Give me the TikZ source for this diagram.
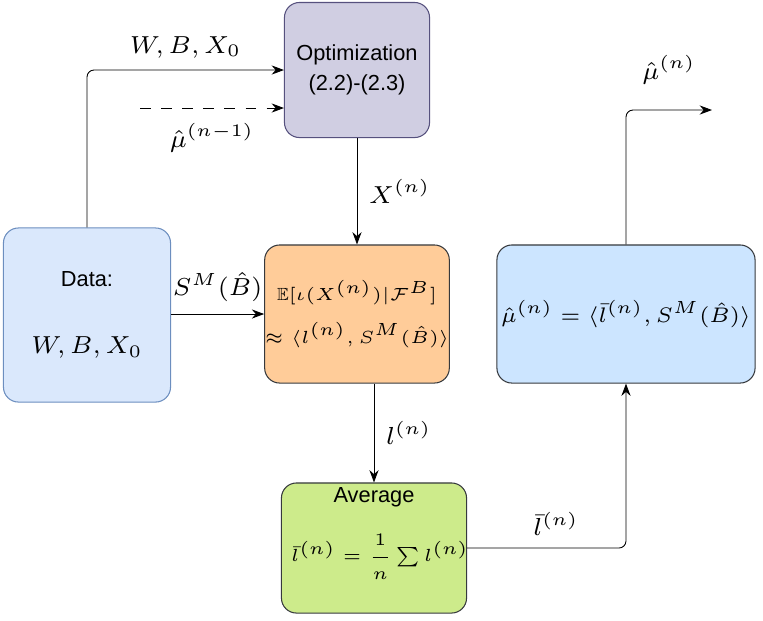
\documentclass[tikz,border=0pt]{standalone}
\usepackage{amsmath,amssymb}
\usepackage{fontspec}
\newfontfamily\sansf{Liberation Sans}
\usetikzlibrary{arrows.meta}
\begin{document}
\begin{tikzpicture}[x=0.01cm,y=-0.01cm,
  box/.style={draw, rounded corners=0.15cm, line width=0.3pt, inner sep=0pt},
  arr/.style={-{Stealth[length=3.5pt,width=2.6pt]}, line width=0.25pt},
  lbl/.style={font=\fontsize{6.6}{8}\selectfont},
  st/.style={font=\sansf\fontsize{6.2}{7.5}\selectfont}]
\useasboundingbox (0,0) rectangle (763,620);
\definecolor{lav}{HTML}{D0CEE2}\definecolor{lavd}{HTML}{56517E}
\definecolor{lb}{HTML}{DAE8FC}\definecolor{lbd}{HTML}{6C8EBF}
\definecolor{orf}{HTML}{FFCC99}\definecolor{gr}{HTML}{CDEB8B}
\definecolor{rb}{HTML}{CCE5FF}\definecolor{dk}{HTML}{36393D}
\node[box, fill=lav, draw=lavd, minimum width=1.45cm, minimum height=1.35cm, align=center, st] (opt) at (357,70) {Optimization\\[1pt](2.2)-(2.3)};
\node[box, fill=lb, draw=lbd, minimum width=1.67cm, minimum height=1.74cm, align=center] (data) at (87,315) {{\sansf\fontsize{6.2}{7.5}\selectfont Data:}\\[7pt]{\fontsize{6.6}{8}\selectfont $W,B,X_0$}};
\node[box, fill=orf, draw=dk, minimum width=1.40cm, minimum height=1.38cm, align=center, font=\fontsize{5}{6}\selectfont] (exp) at (357,314) {$\mathbb{E}[\iota(X^{(n)})|\mathcal{F}^B]$\\[4pt]$\approx\langle l^{(n)},S^M(\hat B)\rangle$};
\node[box, fill=gr, draw=dk, minimum width=1.85cm, minimum height=1.30cm] (avg) at (374,548) {};
\node[st] (avgt) at (374,497) {Average};
\node[font=\fontsize{5.5}{7}\selectfont] (avgm) at (380,557) {$\bar l^{(n)}=\dfrac1n\sum l^{(n)}$};
\node[box, fill=rb, draw=dk, minimum width=2.58cm, minimum height=1.38cm, font=\fontsize{6}{7}\selectfont] (mu) at (626,314) {$\hat\mu^{(n)}=\langle \bar l^{(n)},S^M(\hat B)\rangle$};
\coordinate (dstart) at (140,108);
\coordinate (out) at (712,110);
\draw[arr, rounded corners=2pt] (data.north) |- (opt.west) node[pos=0.75, above, lbl] {$W,B,X_0$};
\draw[arr, dashed] (dstart) -- (opt.west |- dstart) node[pos=0.5, below=1pt, lbl] {$\hat\mu^{(n-1)}$};
\draw[arr] (opt.south) -- (exp.north) node[midway, right, lbl] {$X^{(n)}$};
\draw[arr] (data.east |- exp.west) -- (exp.west) node[midway, above, lbl] {$S^M(\hat B)$};
\draw[arr] (exp.south -| avg.north) -- (avg.north) node[midway, right, lbl] {$l^{(n)}$};
\draw[arr, rounded corners=2pt] (avg.east) -| (mu.south) node[pos=0.28, above, lbl] {$\bar l^{(n)}$};
\draw[arr, rounded corners=2pt] (mu.north) |- (out) node[pos=0.75, above=4pt, lbl] {$\hat\mu^{(n)}$};
\end{tikzpicture}
\end{document}
